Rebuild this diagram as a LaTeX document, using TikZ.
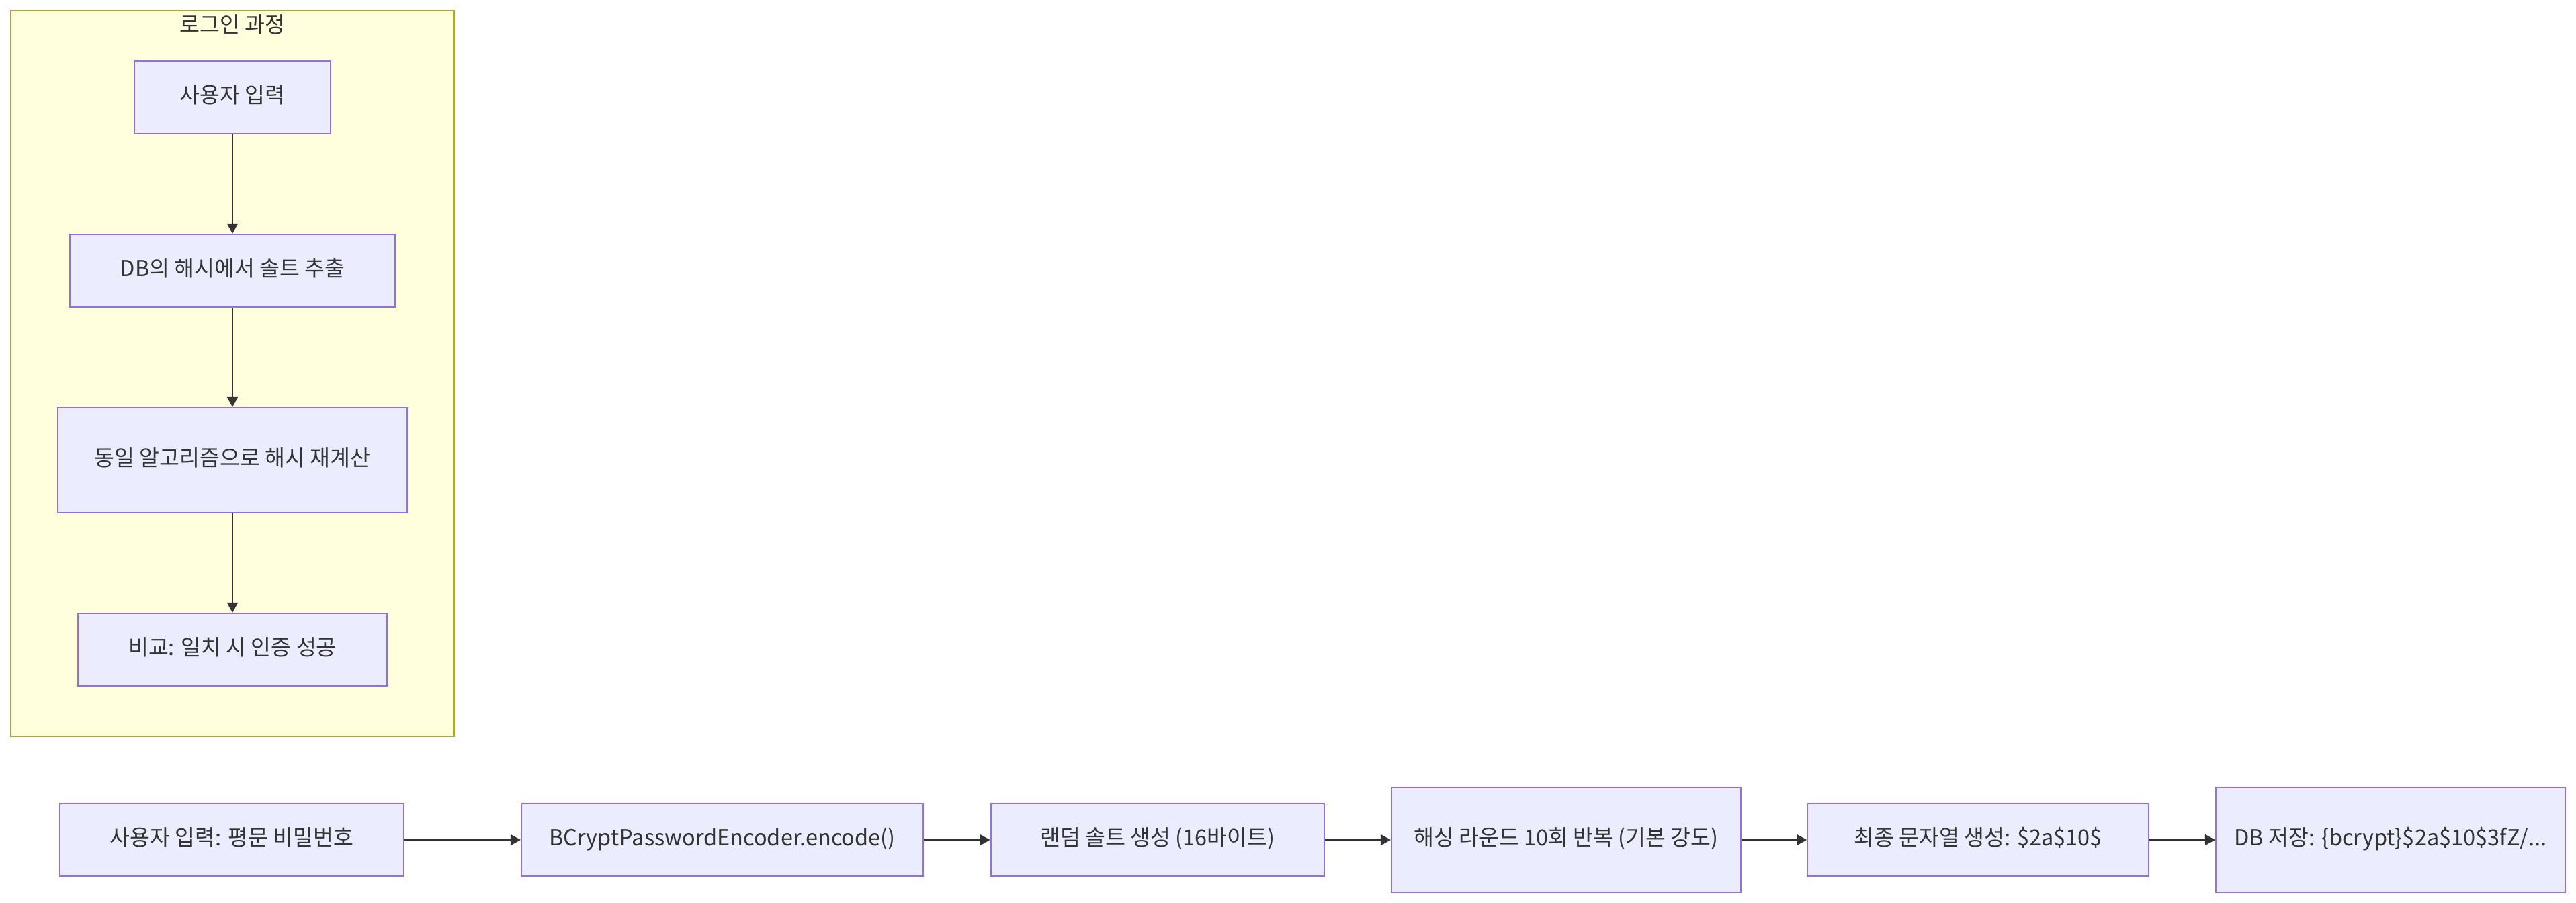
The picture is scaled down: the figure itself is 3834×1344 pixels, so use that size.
\documentclass[tikz,border=0pt]{standalone}
\usepackage{fontspec}
\setmainfont{Noto Sans CJK KR}
\usetikzlibrary{arrows.meta}
\definecolor{nodefill}{HTML}{ECECFF}
\definecolor{nodeline}{HTML}{9370DB}
\definecolor{clusterfill}{HTML}{FFFFDE}
\definecolor{clusterline}{HTML}{AAAA33}
\definecolor{txt}{HTML}{333333}
\tikzset{
  stepbox/.style={draw=nodeline, fill=nodefill, line width=2.2pt, inner sep=0pt,
    minimum height=108pt, text=txt, font=\fontsize{32.5}{39}\selectfont,
    text height=26pt, text depth=10pt},
  tallbox/.style={stepbox, minimum height=156pt},
  flow/.style={draw=txt, line width=2pt, -{Triangle[length=15pt,width=16pt]}},
}
\begin{document}
\begin{tikzpicture}[x=1pt,y=-1pt]
\useasboundingbox (0,0) rectangle (3834,1344);
% cluster
\draw[draw=clusterline, fill=clusterfill, line width=2.2pt] (15.6,15.7) rectangle (675.4,1095.7);
\node[text=txt, font=\fontsize{32.5}{39}\selectfont] (title) at (346,36) {로그인 과정};
% login column
\node[stepbox, minimum width=291.5pt] (a1) at (346,145) {사용자 입력};
\node[stepbox, minimum width=483.5pt] (a2) at (346,403) {DB의 해시에서 솔트 추출};
\node[tallbox, minimum width=520.3pt] (a3) at (346,685) {동일 알고리즘으로 해시 재계산};
\node[stepbox, minimum width=460pt] (a4) at (346,967) {비교: 일치 시 인증 성공};
\draw[flow] (a1) -- (a2);
\draw[flow] (a2) -- (a3);
\draw[flow] (a3) -- (a4);
% bottom row
\node[stepbox, minimum width=512pt] (b1) at (345,1250) {사용자 입력: 평문 비밀번호};
\node[stepbox, minimum width=598pt] (b2) at (1075,1250) {BCryptPasswordEncoder.encode()};
\node[stepbox, minimum width=496pt] (b3) at (1722.6,1250) {랜덤 솔트 생성 (16바이트)};
\node[tallbox, minimum width=520pt] (b4) at (2331,1250) {해싱 라운드 10회 반복 (기본 강도)};
\node[stepbox, minimum width=507.5pt] (b5) at (2944,1250) {최종 문자열 생성: \$2a\$10\$};
\node[tallbox, minimum width=520pt] (b6) at (3558,1250) {DB 저장: \{bcrypt\}\$2a\$10\$3fZ/...};
\draw[flow] (b1) -- (b2);
\draw[flow] (b2) -- (b3);
\draw[flow] (b3) -- (b4);
\draw[flow] (b4) -- (b5);
\draw[flow] (b5) -- (b6);
\end{tikzpicture}
\end{document}
